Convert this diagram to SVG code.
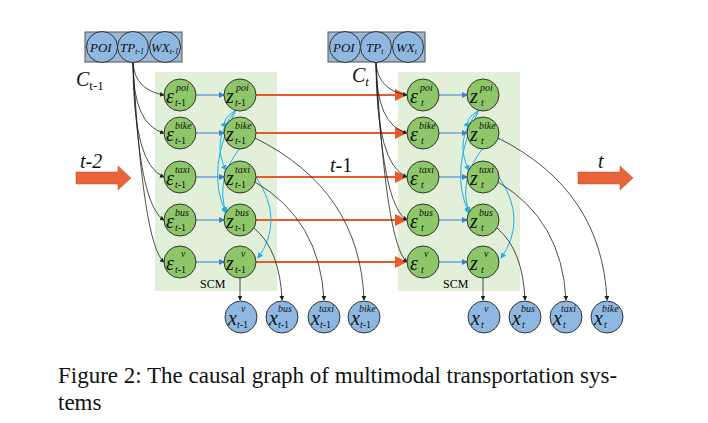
<svg xmlns="http://www.w3.org/2000/svg" width="708" height="423" viewBox="0 0 708 423">
<defs>
<marker id="ab" markerWidth="6" markerHeight="6" refX="5" refY="3" orient="auto"><path d="M0,0L6,3L0,6z" fill="#222"/></marker>
<marker id="abl" markerWidth="6" markerHeight="6" refX="5" refY="3" orient="auto"><path d="M0,0L6,3L0,6z" fill="#3a7fd0"/></marker>
<marker id="acy" markerWidth="6" markerHeight="6" refX="5" refY="3" orient="auto"><path d="M0,0L6,3L0,6z" fill="#20b0e8"/></marker>
<marker id="aor" markerWidth="6" markerHeight="6" refX="5" refY="3" orient="auto"><path d="M0,0L6,3L0,6z" fill="#e85a2a"/></marker>
</defs>
<style>
.g{fill:#8ec66a;stroke:#333;stroke-width:1}
.b{fill:#8eb8e2;stroke:#333;stroke-width:1}
.t{font-family:"Liberation Serif",serif;font-style:italic;fill:#111}
.k{fill:none;stroke:#222;stroke-width:0.8;marker-end:url(#ab)}
.bl{fill:none;stroke:#3a7fd0;stroke-width:1;marker-end:url(#abl)}
.cy{fill:none;stroke:#20b0e8;stroke-width:1;marker-end:url(#acy)}
.or{fill:none;stroke:#e85a2a;stroke-width:2;marker-end:url(#aor)}
.cap{font-family:"Liberation Serif",serif;font-size:23px;fill:#111}
</style>
<rect x="155" y="72" width="122" height="219" fill="#e2efd9"/>
<rect x="398" y="72" width="122" height="219" fill="#e2efd9"/>
<text x="200" y="288" font-family="Liberation Serif,serif" font-size="12">SCM</text>
<text x="443" y="288" font-family="Liberation Serif,serif" font-size="12">SCM</text>
<g id="connectors">
<path class="or" d="M256,95H405"/><path class="or" d="M256,133H405"/><path class="or" d="M256,177H405"/><path class="or" d="M256,220H405"/><path class="or" d="M256,262H405"/>
<path class="bl" d="M196,95H224"/><path class="bl" d="M196,133H224"/><path class="bl" d="M196,177H224"/><path class="bl" d="M196,220H224"/><path class="bl" d="M196,262H224"/>
<path class="bl" d="M439,95H467"/><path class="bl" d="M439,133H467"/><path class="bl" d="M439,177H467"/><path class="bl" d="M439,220H467"/><path class="bl" d="M439,262H467"/>
<path class="cy" d="M236,110Q220,120 226,127"/><path class="cy" d="M236,110Q210,140 226,170"/><path class="cy" d="M236,110Q205,170 226,213"/><path class="cy" d="M240,148Q215,180 226,212"/><path class="cy" d="M256,177Q285,220 258,258"/>
<path class="cy" d="M479,110Q463,120 469,127"/><path class="cy" d="M479,110Q453,140 469,170"/><path class="cy" d="M479,110Q448,170 469,213"/><path class="cy" d="M483,148Q458,180 469,212"/><path class="cy" d="M499,177Q528,220 501,258"/>
<path class="k" d="M240,278V300"/><path class="k" d="M254,228Q280,250 282,300"/><path class="k" d="M255,182Q320,220 324,300"/><path class="k" d="M255,138Q360,190 364,300"/>
<path class="k" d="M483,278V300"/><path class="k" d="M497,228Q523,250 525,300"/><path class="k" d="M498,182Q562,220 566,300"/><path class="k" d="M498,138Q602,190 607,300"/>
<path class="k" d="M133,63Q135,90 164,95"/><path class="k" d="M133,63Q133,125 164,133"/><path class="k" d="M133,63Q133,165 164,177"/><path class="k" d="M133,63Q138,205 164,220"/><path class="k" d="M133,63Q143,245 164,262"/>
<path class="k" d="M376,63Q378,90 407,95"/><path class="k" d="M376,63Q376,125 407,133"/><path class="k" d="M376,63Q376,165 407,177"/><path class="k" d="M376,63Q381,205 407,220"/><path class="k" d="M376,63Q386,245 407,262"/>
</g>
<g id="arrows"><path d="M76,172H118V166L131,178L118,190V184H76z" fill="#e8643a" stroke="#c04a20" stroke-width="0.5"/><path d="M578,172H620V166L633,178L620,190V184H578z" fill="#e8643a" stroke="#c04a20" stroke-width="0.5"/></g>
<text class="t" x="80" y="168" font-size="20">t-2</text>
<text class="t" x="330" y="172" font-size="20">t<tspan font-style="normal">-1</tspan></text>
<text class="t" x="598" y="168" font-size="20">t</text>
<g id="ctx1"><rect x="85" y="32" width="97" height="30" fill="#9cb8d8" stroke="#555"/>
<circle class="b" cx="102" cy="47" r="15.5"/><circle class="b" cx="133" cy="47" r="15.5"/><circle class="b" cx="165" cy="47" r="15.5"/>
<text class="t" x="90" y="52" font-size="13">POI</text><text class="t" x="120" y="52" font-size="13">TP<tspan font-size="8" dy="2">t-1</tspan></text><text class="t" x="151" y="52" font-size="13">WX<tspan font-size="8" dy="2">t-1</tspan></text>
<text class="t" x="76" y="86" font-size="20">C<tspan font-size="13" font-style="normal" dy="4">t-1</tspan></text></g>
<g id="ctx2"><rect x="328" y="32" width="97" height="30" fill="#9cb8d8" stroke="#555"/>
<circle class="b" cx="345" cy="47" r="15.5"/><circle class="b" cx="376" cy="47" r="15.5"/><circle class="b" cx="408" cy="47" r="15.5"/>
<text class="t" x="333" y="52" font-size="13">POI</text><text class="t" x="366" y="52" font-size="13">TP<tspan font-size="8" dy="2">t</tspan></text><text class="t" x="396" y="52" font-size="13">WX<tspan font-size="8" dy="2">t</tspan></text>
<text class="t" x="352" y="82" font-size="20">C<tspan font-size="13" dy="4">t</tspan></text></g>
<g id="nodes1">
<circle class="g" cx="180" cy="95" r="16"/><circle class="g" cx="180" cy="133" r="16"/><circle class="g" cx="180" cy="177" r="16"/><circle class="g" cx="180" cy="220" r="16"/><circle class="g" cx="180" cy="262" r="16"/>
<circle class="g" cx="240" cy="95" r="16"/><circle class="g" cx="240" cy="133" r="16"/><circle class="g" cx="240" cy="177" r="16"/><circle class="g" cx="240" cy="220" r="16"/><circle class="g" cx="240" cy="262" r="16"/>
<g class="t" font-size="20"><text x="166" y="103">ε</text><text x="166" y="141">ε</text><text x="166" y="185">ε</text><text x="166" y="228">ε</text><text x="166" y="270">ε</text>
<text x="226" y="103">z</text><text x="226" y="141">z</text><text x="226" y="185">z</text><text x="226" y="228">z</text><text x="226" y="270">z</text></g>
<g class="t" font-size="10"><text x="176" y="91">poi</text><text x="175" y="129">bike</text><text x="175" y="173">taxi</text><text x="175" y="216">bus</text><text x="181" y="257">v</text>
<text x="236" y="91">poi</text><text x="235" y="129">bike</text><text x="235" y="173">taxi</text><text x="235" y="216">bus</text><text x="241" y="257">v</text>
<text x="175" y="106">t<tspan font-style="normal">-1</tspan></text><text x="175" y="144">t<tspan font-style="normal">-1</tspan></text><text x="175" y="188">t<tspan font-style="normal">-1</tspan></text><text x="175" y="231">t<tspan font-style="normal">-1</tspan></text><text x="175" y="273">t<tspan font-style="normal">-1</tspan></text>
<text x="235" y="106">t<tspan font-style="normal">-1</tspan></text><text x="235" y="144">t<tspan font-style="normal">-1</tspan></text><text x="235" y="188">t<tspan font-style="normal">-1</tspan></text><text x="235" y="231">t<tspan font-style="normal">-1</tspan></text><text x="235" y="273">t<tspan font-style="normal">-1</tspan></text></g>
</g>
<g id="nodes2">
<circle class="g" cx="423" cy="95" r="16"/><circle class="g" cx="423" cy="133" r="16"/><circle class="g" cx="423" cy="177" r="16"/><circle class="g" cx="423" cy="220" r="16"/><circle class="g" cx="423" cy="262" r="16"/>
<circle class="g" cx="483" cy="95" r="16"/><circle class="g" cx="483" cy="133" r="16"/><circle class="g" cx="483" cy="177" r="16"/><circle class="g" cx="483" cy="220" r="16"/><circle class="g" cx="483" cy="262" r="16"/>
<g class="t" font-size="20"><text x="410" y="103">ε</text><text x="410" y="141">ε</text><text x="410" y="185">ε</text><text x="410" y="228">ε</text><text x="410" y="270">ε</text>
<text x="470" y="103">z</text><text x="470" y="141">z</text><text x="470" y="185">z</text><text x="470" y="228">z</text><text x="470" y="270">z</text></g>
<g class="t" font-size="10"><text x="420" y="91">poi</text><text x="419" y="129">bike</text><text x="419" y="173">taxi</text><text x="419" y="216">bus</text><text x="424" y="257">v</text>
<text x="480" y="91">poi</text><text x="479" y="129">bike</text><text x="479" y="173">taxi</text><text x="479" y="216">bus</text><text x="484" y="257">v</text>
<text x="421" y="106">t</text><text x="421" y="144">t</text><text x="421" y="188">t</text><text x="421" y="231">t</text><text x="421" y="273">t</text>
<text x="481" y="106">t</text><text x="481" y="144">t</text><text x="481" y="188">t</text><text x="481" y="231">t</text><text x="481" y="273">t</text></g>
</g>
<g id="obs">
<circle class="b" cx="241" cy="317" r="16"/><circle class="b" cx="282" cy="317" r="16"/><circle class="b" cx="324" cy="317" r="16"/><circle class="b" cx="364" cy="317" r="16"/>
<circle class="b" cx="484" cy="317" r="16"/><circle class="b" cx="525" cy="317" r="16"/><circle class="b" cx="566" cy="317" r="16"/><circle class="b" cx="607" cy="317" r="16"/>
<g class="t" font-size="20"><text x="228" y="325">x</text><text x="269" y="325">x</text><text x="311" y="325">x</text><text x="351" y="325">x</text><text x="471" y="325">x</text><text x="512" y="325">x</text><text x="553" y="325">x</text><text x="594" y="325">x</text></g>
<g class="t" font-size="10"><text x="241" y="312">v</text><text x="278" y="312">bus</text><text x="319" y="312">taxi</text><text x="359" y="312">bike</text><text x="484" y="312">v</text><text x="521" y="312">bus</text><text x="561" y="312">taxi</text><text x="602" y="312">bike</text>
<text x="237" y="328">t<tspan font-style="normal">-1</tspan></text><text x="278" y="328">t<tspan font-style="normal">-1</tspan></text><text x="320" y="328">t<tspan font-style="normal">-1</tspan></text><text x="360" y="328">t<tspan font-style="normal">-1</tspan></text>
<text x="481" y="328">t</text><text x="522" y="328">t</text><text x="563" y="328">t</text><text x="604" y="328">t</text></g>
</g>
<text class="cap" x="58" y="383">Figure 2: The causal graph of multimodal transportation sys-</text>
<text class="cap" x="58" y="410">tems</text>
</svg>
